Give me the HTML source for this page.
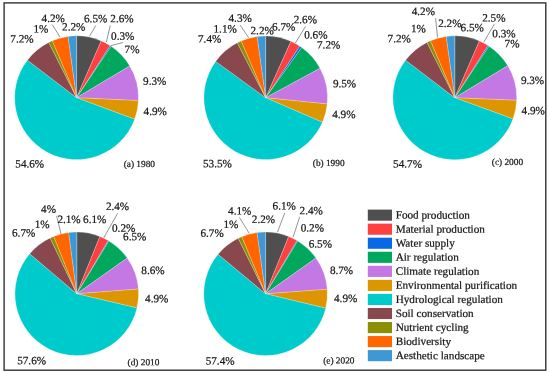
<!DOCTYPE html>
<html><head><meta charset="utf-8"><title>Ecosystem service value pies</title>
<style>
html,body{margin:0;padding:0;background:#fff;}
body{width:550px;height:373px;overflow:hidden;}
svg{display:block;}
svg text{font-family:"Liberation Serif","Times New Roman",serif;fill:#161616;stroke:#161616;stroke-width:0.22px;text-rendering:geometricPrecision;}
.l{font-size:11.2px;}
.c{font-size:9.3px;}
.g{font-size:11.2px;}
</style></head>
<body>
<svg width="550" height="373" viewBox="0 0 550 373">
<rect x="0" y="0" width="550" height="373" fill="#fff"/>
<rect x="4.1" y="2.9" width="541.7" height="367.3" fill="none" stroke="#323232" stroke-width="1.4"/>
<g stroke="#fff" stroke-opacity="0.5" stroke-width="0.45" stroke-linejoin="round">
<path d="M76.60 97.70 L76.60 35.80 A61.90 61.90 0 0 1 101.23 40.91 Z" fill="#4F4F4F"/>
<path d="M76.60 97.70 L101.23 40.91 A61.90 61.90 0 0 1 110.16 45.68 Z" fill="#FF4040"/>
<path d="M76.60 97.70 L110.16 45.68 A61.90 61.90 0 0 1 111.13 46.33 Z" fill="#0868E6"/>
<path d="M76.60 97.70 L111.13 46.33 A61.90 61.90 0 0 1 129.75 65.97 Z" fill="#00A85E"/>
<path d="M76.60 97.70 L129.75 65.97 A61.90 61.90 0 0 1 138.43 100.62 Z" fill="#C478E4"/>
<path d="M76.60 97.70 L138.43 100.62 A61.90 61.90 0 0 1 134.62 119.26 Z" fill="#DE9600"/>
<path d="M76.60 97.70 L134.62 119.26 A61.90 61.90 0 1 1 27.38 60.16 Z" fill="#00CBCC"/>
<path d="M76.60 97.70 L27.38 60.16 A61.90 61.90 0 0 1 48.79 42.40 Z" fill="#88484E"/>
<path d="M76.60 97.70 L48.79 42.40 A61.90 61.90 0 0 1 52.33 40.76 Z" fill="#8C8E04"/>
<path d="M76.60 97.70 L52.33 40.76 A61.90 61.90 0 0 1 68.05 36.39 Z" fill="#FF6600"/>
<path d="M76.60 97.70 L68.05 36.39 A61.90 61.90 0 0 1 76.60 35.80 Z" fill="#3E98D6"/>
</g>
<g stroke="#666" stroke-width="0.7" fill="none">
<line x1="52.2" y1="24.6" x2="60.2" y2="37.3"/>
<line x1="95.9" y1="25.3" x2="89.5" y2="36.3"/>
<line x1="110.3" y1="25.4" x2="106.3" y2="42.1"/>
<line x1="123.0" y1="42.5" x2="110.6" y2="45.7"/>
</g>
<text class="l" x="84.0" y="22.30" transform="rotate(0.1 84.0 22.30)">6.5%</text>
<text class="l" x="110.3" y="22.30" transform="rotate(0.1 110.3 22.30)">2.6%</text>
<text class="l" x="111.1" y="39.70" transform="rotate(0.1 111.1 39.70)">0.3%</text>
<text class="l" x="124.6" y="53.00" transform="rotate(0.1 124.6 53.00)">7%</text>
<text class="l" x="143.1" y="84.80" transform="rotate(0.1 143.1 84.80)">9.3%</text>
<text class="l" x="143.6" y="115.00" transform="rotate(0.1 143.6 115.00)">4.9%</text>
<text class="l" x="15.3" y="167.50" transform="rotate(0.1 15.3 167.50)">54.6%</text>
<text class="l" x="10.3" y="42.40" transform="rotate(0.1 10.3 42.40)">7.2%</text>
<text class="l" x="33.5" y="32.60" transform="rotate(0.1 33.5 32.60)">1%</text>
<text class="l" x="41.6" y="21.90" transform="rotate(0.1 41.6 21.90)">4.2%</text>
<text class="l" x="62.1" y="30.50" transform="rotate(0.1 62.1 30.50)">2.2%</text>
<text class="c" x="123.7" y="166.90" transform="rotate(0.1 123.7 166.90)">(a) 1980</text>
<g stroke="#fff" stroke-opacity="0.5" stroke-width="0.45" stroke-linejoin="round">
<path d="M265.70 97.75 L265.70 35.95 A61.80 61.80 0 0 1 290.95 41.35 Z" fill="#4F4F4F"/>
<path d="M265.70 97.75 L290.95 41.35 A61.80 61.80 0 0 1 299.79 46.20 Z" fill="#FF4040"/>
<path d="M265.70 97.75 L299.79 46.20 A61.80 61.80 0 0 1 301.71 47.53 Z" fill="#0868E6"/>
<path d="M265.70 97.75 L301.71 47.53 A61.80 61.80 0 0 1 320.04 68.32 Z" fill="#00A85E"/>
<path d="M265.70 97.75 L320.04 68.32 A61.80 61.80 0 0 1 327.19 103.95 Z" fill="#C478E4"/>
<path d="M265.70 97.75 L327.19 103.95 A61.80 61.80 0 0 1 322.42 122.29 Z" fill="#DE9600"/>
<path d="M265.70 97.75 L322.42 122.29 A61.80 61.80 0 1 1 215.70 61.42 Z" fill="#00CBCC"/>
<path d="M265.70 97.75 L215.70 61.42 A61.80 61.80 0 0 1 237.30 42.86 Z" fill="#88484E"/>
<path d="M265.70 97.75 L237.30 42.86 A61.80 61.80 0 0 1 241.16 41.03 Z" fill="#8C8E04"/>
<path d="M265.70 97.75 L241.16 41.03 A61.80 61.80 0 0 1 257.18 36.54 Z" fill="#FF6600"/>
<path d="M265.70 97.75 L257.18 36.54 A61.80 61.80 0 0 1 265.70 35.95 Z" fill="#3E98D6"/>
</g>
<g stroke="#666" stroke-width="0.7" fill="none">
<line x1="240.2" y1="25.1" x2="248.6" y2="37.7"/>
<line x1="305.5" y1="26.5" x2="295.3" y2="43.1"/>
</g>
<text class="l" x="272.1" y="30.50" transform="rotate(0.1 272.1 30.50)">6.7%</text>
<text class="l" x="293.7" y="23.30" transform="rotate(0.1 293.7 23.30)">2.6%</text>
<text class="l" x="304.2" y="38.50" transform="rotate(0.1 304.2 38.50)">0.6%</text>
<text class="l" x="317.0" y="48.60" transform="rotate(0.1 317.0 48.60)">7.2%</text>
<text class="l" x="332.9" y="87.30" transform="rotate(0.1 332.9 87.30)">9.5%</text>
<text class="l" x="332.2" y="118.00" transform="rotate(0.1 332.2 118.00)">4.9%</text>
<text class="l" x="203.0" y="167.30" transform="rotate(0.1 203.0 167.30)">53.5%</text>
<text class="l" x="198.0" y="42.50" transform="rotate(0.1 198.0 42.50)">7.4%</text>
<text class="l" x="213.5" y="32.60" transform="rotate(0.1 213.5 32.60)">1.1%</text>
<text class="l" x="228.5" y="21.70" transform="rotate(0.1 228.5 21.70)">4.3%</text>
<text class="l" x="250.5" y="34.30" transform="rotate(0.1 250.5 34.30)">2.2%</text>
<text class="c" x="312.8" y="165.90" transform="rotate(0.1 312.8 165.90)">(b) 1990</text>
<g stroke="#fff" stroke-opacity="0.5" stroke-width="0.45" stroke-linejoin="round">
<path d="M454.80 97.75 L454.80 35.85 A61.90 61.90 0 0 1 479.43 40.96 Z" fill="#4F4F4F"/>
<path d="M454.80 97.75 L479.43 40.96 A61.90 61.90 0 0 1 488.03 45.52 Z" fill="#FF4040"/>
<path d="M454.80 97.75 L488.03 45.52 A61.90 61.90 0 0 1 489.01 46.16 Z" fill="#0868E6"/>
<path d="M454.80 97.75 L489.01 46.16 A61.90 61.90 0 0 1 507.75 65.68 Z" fill="#00A85E"/>
<path d="M454.80 97.75 L507.75 65.68 A61.90 61.90 0 0 1 516.65 100.28 Z" fill="#C478E4"/>
<path d="M454.80 97.75 L516.65 100.28 A61.90 61.90 0 0 1 512.96 118.94 Z" fill="#DE9600"/>
<path d="M454.80 97.75 L512.96 118.94 A61.90 61.90 0 1 1 405.58 60.21 Z" fill="#00CBCC"/>
<path d="M454.80 97.75 L405.58 60.21 A61.90 61.90 0 0 1 426.99 42.45 Z" fill="#88484E"/>
<path d="M454.80 97.75 L426.99 42.45 A61.90 61.90 0 0 1 430.53 40.81 Z" fill="#8C8E04"/>
<path d="M454.80 97.75 L430.53 40.81 A61.90 61.90 0 0 1 446.25 36.44 Z" fill="#FF6600"/>
<path d="M454.80 97.75 L446.25 36.44 A61.90 61.90 0 0 1 454.80 35.85 Z" fill="#3E98D6"/>
</g>
<g stroke="#666" stroke-width="0.7" fill="none">
<line x1="435.6" y1="18.2" x2="437.5" y2="37.5"/>
<line x1="494.3" y1="24.2" x2="483.7" y2="42.3"/>
</g>
<text class="l" x="460.6" y="31.30" transform="rotate(0.1 460.6 31.30)">6.5%</text>
<text class="l" x="482.2" y="21.40" transform="rotate(0.1 482.2 21.40)">2.5%</text>
<text class="l" x="492.3" y="37.30" transform="rotate(0.1 492.3 37.30)">0.3%</text>
<text class="l" x="504.6" y="47.30" transform="rotate(0.1 504.6 47.30)">7%</text>
<text class="l" x="520.9" y="84.00" transform="rotate(0.1 520.9 84.00)">9.3%</text>
<text class="l" x="521.6" y="114.30" transform="rotate(0.1 521.6 114.30)">4.9%</text>
<text class="l" x="393.1" y="167.60" transform="rotate(0.1 393.1 167.60)">54.7%</text>
<text class="l" x="387.6" y="42.20" transform="rotate(0.1 387.6 42.20)">7.2%</text>
<text class="l" x="411.0" y="32.30" transform="rotate(0.1 411.0 32.30)">1%</text>
<text class="l" x="411.7" y="14.90" transform="rotate(0.1 411.7 14.90)">4.2%</text>
<text class="l" x="438.2" y="26.90" transform="rotate(0.1 438.2 26.90)">2.2%</text>
<text class="c" x="491.8" y="165.00" transform="rotate(0.1 491.8 165.00)">(c) 2000</text>
<g stroke="#fff" stroke-opacity="0.5" stroke-width="0.45" stroke-linejoin="round">
<path d="M76.80 293.80 L76.80 232.00 A61.80 61.80 0 0 1 99.89 236.48 Z" fill="#4F4F4F"/>
<path d="M76.80 293.80 L99.89 236.48 A61.80 61.80 0 0 1 108.23 240.59 Z" fill="#FF4040"/>
<path d="M76.80 293.80 L108.23 240.59 A61.80 61.80 0 0 1 108.90 240.99 Z" fill="#0868E6"/>
<path d="M76.80 293.80 L108.90 240.99 A61.80 61.80 0 0 1 127.22 258.06 Z" fill="#00A85E"/>
<path d="M76.80 293.80 L127.22 258.06 A61.80 61.80 0 0 1 138.42 289.05 Z" fill="#C478E4"/>
<path d="M76.80 293.80 L138.42 289.05 A61.80 61.80 0 0 1 136.96 307.93 Z" fill="#DE9600"/>
<path d="M76.80 293.80 L136.96 307.93 A61.80 61.80 0 1 1 29.72 253.77 Z" fill="#00CBCC"/>
<path d="M76.80 293.80 L29.72 253.77 A61.80 61.80 0 0 1 50.16 238.04 Z" fill="#88484E"/>
<path d="M76.80 293.80 L50.16 238.04 A61.80 61.80 0 0 1 53.71 236.48 Z" fill="#8C8E04"/>
<path d="M76.80 293.80 L53.71 236.48 A61.80 61.80 0 0 1 68.68 232.54 Z" fill="#FF6600"/>
<path d="M76.80 293.80 L68.68 232.54 A61.80 61.80 0 0 1 76.80 232.00 Z" fill="#3E98D6"/>
</g>
<g stroke="#666" stroke-width="0.7" fill="none">
<line x1="56.6" y1="215.8" x2="61.0" y2="234.0"/>
<line x1="117.7" y1="213.2" x2="103.7" y2="237.9"/>
</g>
<text class="l" x="83.1" y="223.10" transform="rotate(0.1 83.1 223.10)">6.1%</text>
<text class="l" x="105.9" y="210.00" transform="rotate(0.1 105.9 210.00)">2.4%</text>
<text class="l" x="112.0" y="231.80" transform="rotate(0.1 112.0 231.80)">0.2%</text>
<text class="l" x="123.1" y="240.20" transform="rotate(0.1 123.1 240.20)">6.5%</text>
<text class="l" x="141.3" y="274.10" transform="rotate(0.1 141.3 274.10)">8.6%</text>
<text class="l" x="145.1" y="302.30" transform="rotate(0.1 145.1 302.30)">4.9%</text>
<text class="l" x="17.2" y="364.30" transform="rotate(0.1 17.2 364.30)">57.6%</text>
<text class="l" x="12.0" y="236.60" transform="rotate(0.1 12.0 236.60)">6.7%</text>
<text class="l" x="34.7" y="228.00" transform="rotate(0.1 34.7 228.00)">1%</text>
<text class="l" x="41.1" y="212.70" transform="rotate(0.1 41.1 212.70)">4%</text>
<text class="l" x="57.4" y="222.90" transform="rotate(0.1 57.4 222.90)">2.1%</text>
<text class="c" x="127.6" y="365.30" transform="rotate(0.1 127.6 365.30)">(d) 2010</text>
<g stroke="#fff" stroke-opacity="0.5" stroke-width="0.45" stroke-linejoin="round">
<path d="M265.60 293.80 L265.60 232.00 A61.80 61.80 0 0 1 288.67 236.47 Z" fill="#4F4F4F"/>
<path d="M265.60 293.80 L288.67 236.47 A61.80 61.80 0 0 1 297.00 240.57 Z" fill="#FF4040"/>
<path d="M265.60 293.80 L297.00 240.57 A61.80 61.80 0 0 1 297.67 240.97 Z" fill="#0868E6"/>
<path d="M265.60 293.80 L297.67 240.97 A61.80 61.80 0 0 1 315.98 258.01 Z" fill="#00A85E"/>
<path d="M265.60 293.80 L315.98 258.01 A61.80 61.80 0 0 1 327.24 289.35 Z" fill="#C478E4"/>
<path d="M265.60 293.80 L327.24 289.35 A61.80 61.80 0 0 1 325.70 308.20 Z" fill="#DE9600"/>
<path d="M265.60 293.80 L325.70 308.20 A61.80 61.80 0 1 1 218.05 254.32 Z" fill="#00CBCC"/>
<path d="M265.60 293.80 L218.05 254.32 A61.80 61.80 0 0 1 238.29 238.36 Z" fill="#88484E"/>
<path d="M265.60 293.80 L238.29 238.36 A61.80 61.80 0 0 1 241.82 236.76 Z" fill="#8C8E04"/>
<path d="M265.60 293.80 L241.82 236.76 A61.80 61.80 0 0 1 257.10 232.59 Z" fill="#FF6600"/>
<path d="M265.60 293.80 L257.10 232.59 A61.80 61.80 0 0 1 265.60 232.00 Z" fill="#3E98D6"/>
</g>
<g stroke="#666" stroke-width="0.7" fill="none">
<line x1="239.5" y1="217.5" x2="249.3" y2="233.5"/>
<line x1="284.8" y1="212.7" x2="277.5" y2="232.1"/>
<line x1="299.7" y1="216.8" x2="293.1" y2="237.2"/>
</g>
<text class="l" x="272.6" y="209.50" transform="rotate(0.1 272.6 209.50)">6.1%</text>
<text class="l" x="299.6" y="214.30" transform="rotate(0.1 299.6 214.30)">2.4%</text>
<text class="l" x="300.7" y="231.40" transform="rotate(0.1 300.7 231.40)">0.2%</text>
<text class="l" x="308.7" y="247.40" transform="rotate(0.1 308.7 247.40)">6.5%</text>
<text class="l" x="329.9" y="274.00" transform="rotate(0.1 329.9 274.00)">8.7%</text>
<text class="l" x="334.0" y="302.10" transform="rotate(0.1 334.0 302.10)">4.9%</text>
<text class="l" x="205.7" y="364.40" transform="rotate(0.1 205.7 364.40)">57.4%</text>
<text class="l" x="200.4" y="236.70" transform="rotate(0.1 200.4 236.70)">6.7%</text>
<text class="l" x="223.5" y="228.00" transform="rotate(0.1 223.5 228.00)">1%</text>
<text class="l" x="228.1" y="214.60" transform="rotate(0.1 228.1 214.60)">4.1%</text>
<text class="l" x="251.8" y="223.10" transform="rotate(0.1 251.8 223.10)">2.2%</text>
<text class="c" x="323.2" y="363.40" transform="rotate(0.1 323.2 363.40)">(e) 2020</text>
<rect x="367.8" y="209.60" width="24.2" height="11.1" fill="#4F4F4F"/>
<text class="g" x="395.7" y="218.60" transform="rotate(0.1 395.7 218.60)">Food production</text>
<rect x="367.8" y="223.65" width="24.2" height="11.1" fill="#FF4040"/>
<text class="g" x="395.7" y="232.65" transform="rotate(0.1 395.7 232.65)">Material production</text>
<rect x="367.8" y="237.70" width="24.2" height="11.1" fill="#0868E6"/>
<text class="g" x="395.7" y="246.70" transform="rotate(0.1 395.7 246.70)">Water supply</text>
<rect x="367.8" y="251.75" width="24.2" height="11.1" fill="#00A85E"/>
<text class="g" x="395.7" y="260.75" transform="rotate(0.1 395.7 260.75)">Air regulation</text>
<rect x="367.8" y="265.80" width="24.2" height="11.1" fill="#C478E4"/>
<text class="g" x="395.7" y="274.80" transform="rotate(0.1 395.7 274.80)">Climate regulation</text>
<rect x="367.8" y="279.85" width="24.2" height="11.1" fill="#DE9600"/>
<text class="g" x="395.7" y="288.85" transform="rotate(0.1 395.7 288.85)">Environmental purification</text>
<rect x="367.8" y="293.90" width="24.2" height="11.1" fill="#00CBCC"/>
<text class="g" x="395.7" y="302.90" transform="rotate(0.1 395.7 302.90)">Hydrological regulation</text>
<rect x="367.8" y="307.95" width="24.2" height="11.1" fill="#88484E"/>
<text class="g" x="395.7" y="316.95" transform="rotate(0.1 395.7 316.95)">Soil conservation</text>
<rect x="367.8" y="322.00" width="24.2" height="11.1" fill="#8C8E04"/>
<text class="g" x="395.7" y="331.00" transform="rotate(0.1 395.7 331.00)">Nutrient cycling</text>
<rect x="367.8" y="336.05" width="24.2" height="11.1" fill="#FF6600"/>
<text class="g" x="395.7" y="345.05" transform="rotate(0.1 395.7 345.05)">Biodiversity</text>
<rect x="367.8" y="350.10" width="24.2" height="11.1" fill="#3E98D6"/>
<text class="g" x="395.7" y="359.10" transform="rotate(0.1 395.7 359.10)">Aesthetic landscape</text>
</svg>
</body></html>
